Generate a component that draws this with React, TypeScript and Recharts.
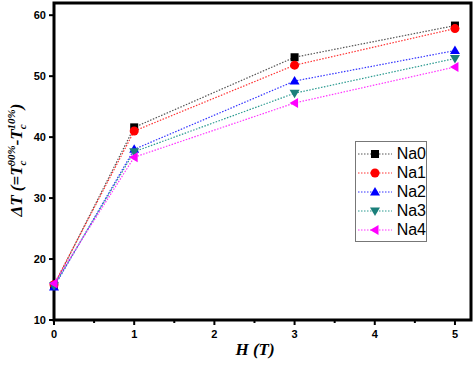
import { LineChart, Line, XAxis, YAxis, ReferenceArea } from "recharts";

const fields = [0, 1, 3, 5];
const na0 = [15.6, 41.6, 53.1, 58.3];
const na1 = [15.8, 41.0, 51.8, 57.8];
const na2 = [15.4, 38.0, 49.2, 54.2];
const na3 = [15.6, 37.6, 47.2, 52.9];
const na4 = [16.0, 36.7, 45.6, 51.5];
const xTicks = [0, 0.5, 1, 1.5, 2, 2.5, 3, 3.5, 4, 4.5, 5];
const yTicks = [10, 20, 30, 40, 50, 60];

const data = fields.map((h, i) => ({
  h,
  Na0: na0[i],
  Na1: na1[i],
  Na2: na2[i],
  Na3: na3[i],
  Na4: na4[i],
}));

const series = [
  { key: "Na0", color: "#000000", stroke: "#555555", shape: "square" },
  { key: "Na1", color: "#ff0000", stroke: "#ff3333", shape: "circle" },
  { key: "Na2", color: "#0000ff", stroke: "#3333ff", shape: "up" },
  { key: "Na3", color: "#1a7f7a", stroke: "#2a9a90", shape: "down" },
  { key: "Na4", color: "#ff00ff", stroke: "#ff33ff", shape: "left" },
];

const Marker = ({ cx, cy, shape, color }: any) => {
  if (cx == null || cy == null) return null;
  const r = 4.5;
  if (shape === "square")
    return <rect x={cx - 4} y={cy - 4} width={8} height={8} fill={color} />;
  if (shape === "circle") return <circle cx={cx} cy={cy} r={r} fill={color} />;
  let pts = "";
  if (shape === "up") pts = `${cx},${cy - r - 0.5} ${cx - r - 0.5},${cy + r - 1} ${cx + r + 0.5},${cy + r - 1}`;
  if (shape === "down") pts = `${cx},${cy + r + 0.5} ${cx - r - 0.5},${cy - r + 1} ${cx + r + 0.5},${cy - r + 1}`;
  if (shape === "left") pts = `${cx - r - 0.5},${cy} ${cx + r - 1},${cy - r - 0.5} ${cx + r - 1},${cy + r + 0.5}`;
  return <polygon points={pts} fill={color} />;
};

const XTick = ({ x, y, payload }: any) => {
  const major = Number.isInteger(payload.value);
  return (
    <g>
      <line x1={x} y1={y - 8} x2={x} y2={y - 8 + (major ? 5 : 3)} stroke="#000" strokeWidth={2} />
      {major && (
        <text x={x} y={y + 10} textAnchor="middle" fontSize={11} fontWeight="bold" fill="#000"
          fontFamily="Liberation Sans, Arial, sans-serif">
          {payload.value}
        </text>
      )}
    </g>
  );
};

const YTick = ({ x, y, payload }: any) => (
  <g>
    <line x1={x + 8} y1={y} x2={x + 3} y2={y} stroke="#000" strokeWidth={2} />
    <text x={x} y={y + 4} textAnchor="end" fontSize={11} fontWeight="bold" fill="#000"
      fontFamily="Liberation Sans, Arial, sans-serif">
      {payload.value}
    </text>
  </g>
);

const LegendBox = () => (
  <div
    style={{
      position: "absolute",
      left: 355,
      top: 141,
      border: "1.5px solid #777",
      background: "#fff",
      width: 70,
      padding: "2px 0",
      fontFamily: "Liberation Sans, Arial, sans-serif",
      fontSize: 16,
    }}
  >
    {series.map((s) => (
      <div key={s.key} style={{ display: "flex", alignItems: "center", height: 19 }}>
        <svg width={38} height={19}>
          <line x1={2} y1={10} x2={36} y2={10} stroke={s.stroke} strokeDasharray="1.5 1.5" strokeWidth={1} />
          <Marker cx={19} cy={10} shape={s.shape} color={s.color} />
        </svg>
        <span style={{ marginLeft: 3 }}>{s.key}</span>
      </div>
    ))}
  </div>
);

const serif = "Liberation Serif, Times New Roman, serif";

export default function App() {
  return (
    <div style={{ position: "fixed", left: 0, top: 0, width: 474, height: 365, background: "#fff" }}>
      <LineChart width={474} height={365} data={data} margin={{ top: 3, right: 3, bottom: 0, left: 0 }}>
        <XAxis
          dataKey="h"
          type="number"
          domain={[0, 5.2]}
          ticks={xTicks}
          tick={<XTick />}
          tickLine={false}
          axisLine={false}
          height={45}
          interval={0}
        />
        <YAxis
          type="number"
          domain={[10, 62]}
          ticks={yTicks}
          tick={<YTick />}
          tickLine={false}
          axisLine={false}
          width={54}
          allowDataOverflow
        />
        <ReferenceArea x1={0} x2={5.2} y1={10} y2={62} fill="none" stroke="#000" strokeWidth={3} />
        {series.map((s) => (
          <Line
            key={s.key}
            dataKey={s.key}
            stroke={s.stroke}
            strokeWidth={1.2}
            strokeDasharray="1.5 1.5"
            isAnimationActive={false}
            dot={(p: any) => <Marker key={`${s.key}-${p.index}`} cx={p.cx} cy={p.cy} shape={s.shape} color={s.color} />}
            activeDot={false}
          />
        ))}
      </LineChart>
      <LegendBox />
      <svg width={474} height={365} style={{ position: "absolute", left: 0, top: 0, pointerEvents: "none" }}>
        <text x={255} y={355} textAnchor="middle" fontFamily={serif} fontStyle="italic" fontWeight="bold" fontSize={17}>
          H (T)
        </text>
        <text
          transform="translate(22,160) rotate(-90)"
          textAnchor="middle"
          fontFamily={serif}
          fontStyle="italic"
          fontWeight="bold"
          fontSize={17}
        >
          <tspan>ΔT (=T</tspan>
          <tspan fontSize={11} dy={4}>c</tspan>
          <tspan fontSize={11} dy={-11} dx={-5}>90%</tspan>
          <tspan dy={7}>-T</tspan>
          <tspan fontSize={11} dy={4}>c</tspan>
          <tspan fontSize={11} dy={-11} dx={-5}>10%</tspan>
          <tspan dy={7}>)</tspan>
        </text>
      </svg>
    </div>
  );
}
